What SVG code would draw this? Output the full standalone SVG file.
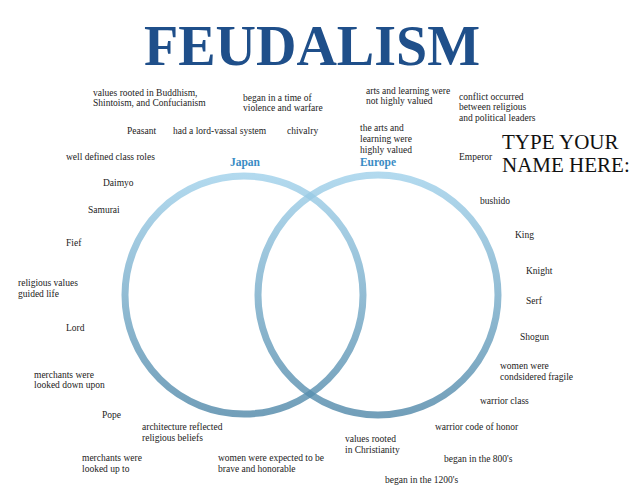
<svg xmlns="http://www.w3.org/2000/svg" width="638" height="493" viewBox="0 0 638 493">
<defs>
<linearGradient id="g" x1="0" y1="0" x2="0" y2="1">
<stop offset="0" stop-color="#9fd0ea"/>
<stop offset="1" stop-color="#4f87a8"/>
</linearGradient>
<style>
text{font-family:"Liberation Serif","DejaVu Serif",serif;font-size:9.5px;fill:#222}
.t{font-size:56px;font-weight:bold;fill:#1f4f8a}
.h{font-size:11.5px;font-weight:bold;fill:#3a8cc4}
.n{font-size:21px;fill:#111}
.c{fill:none;stroke:url(#g);stroke-width:7;opacity:0.8}
</style>
</defs>
<rect width="638" height="493" fill="#fff"/>
<g id="nodes">
<text class="t" x="312" y="65" text-anchor="middle">FEUDALISM</text>
<g id="japan-circle"><circle class="c" cx="244" cy="295" r="119"/><text class="h" x="245" y="166" text-anchor="middle">Japan</text></g>
<g id="europe-circle"><circle class="c" cx="378" cy="295" r="120"/><text class="h" x="378" y="166" text-anchor="middle">Europe</text></g>
<g id="name"><text class="n" x="502" y="149">TYPE YOUR</text><text class="n" x="502" y="172">NAME HERE:</text></g>
<text x="93" y="96">values rooted in Buddhism,<tspan x="93" y="106">Shintoism, and Confucianism</tspan></text>
<text x="243" y="101">began in a time of<tspan x="243" y="111">violence and warfare</tspan></text>
<text x="366" y="94">arts and learning were<tspan x="366" y="104">not highly valued</tspan></text>
<text x="459" y="100">conflict occurred<tspan x="459" y="110">between religious</tspan><tspan x="459" y="121">and political leaders</tspan></text>
<text x="127" y="134">Peasant</text>
<text x="173" y="134">had a lord-vassal system</text>
<text x="287" y="134">chivalry</text>
<text x="360" y="131">the arts and<tspan x="360" y="142">learning were</tspan><tspan x="360" y="153">highly valued</tspan></text>
<text x="459" y="160">Emperor</text>
<text x="66" y="160">well defined class roles</text>
<text x="103" y="186">Daimyo</text>
<text x="88" y="213">Samurai</text>
<text x="480" y="204">bushido</text>
<text x="66" y="246">Fief</text>
<text x="515" y="238">King</text>
<text x="18" y="286">religious values<tspan x="18" y="297">guided life</tspan></text>
<text x="526" y="274">Knight</text>
<text x="526" y="304">Serf</text>
<text x="66" y="331">Lord</text>
<text x="520" y="340">Shogun</text>
<text x="34" y="378">merchants were<tspan x="34" y="388">looked down upon</tspan></text>
<text x="500" y="369">women were<tspan x="500" y="380">condsidered fragile</tspan></text>
<text x="480" y="404">warrior class</text>
<text x="102" y="418">Pope</text>
<text x="142" y="430">architecture reflected<tspan x="142" y="441">religious beliefs</tspan></text>
<text x="435" y="430">warrior code of  honor</text>
<text x="345" y="442">values rooted<tspan x="345" y="453">in Christianity</tspan></text>
<text x="82" y="461">merchants were<tspan x="82" y="472">looked up to</tspan></text>
<text x="218" y="461">women were expected to be<tspan x="218" y="472">brave and honorable</tspan></text>
<text x="444" y="462">began in the 800's</text>
<text x="385" y="483">began in the 1200's</text>
</g>
<g id="connectors"/>
</svg>
